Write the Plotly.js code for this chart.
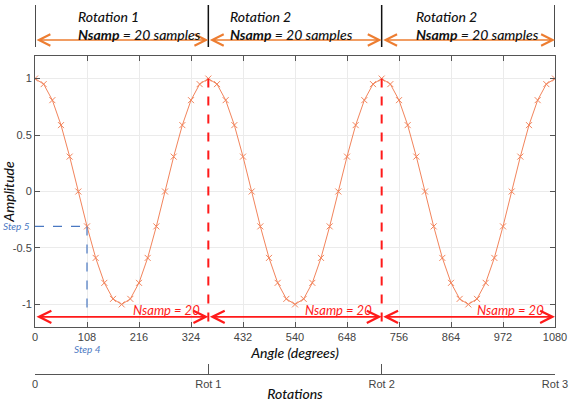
<!DOCTYPE html>
<html>
<head>
<meta charset="utf-8">
<script src="https://cdn.plot.ly/plotly-3.0.1.min.js"></script>
<style>html,body{margin:0;padding:0;background:#fff}#chart{width:569px;height:411px}</style>
</head>
<body>
<div id="chart"></div>
<script>
// Sample angles (degrees) and amplitudes
var angles = [0,18,36,54,72,90,108,126,144,162,180,198,216,234,252,270,288,306,324,342,
  360,378,396,414,432,450,468,486,504,522,540,558,576,594,612,630,648,666,684,702,
  720,738,756,774,792,810,828,846,864,882,900,918,936,954,972,990,1008,1026,1044,1062,1080];
var amplitude = [1,0.951,0.809,0.588,0.309,0,-0.309,-0.588,-0.809,-0.951,-1,-0.951,-0.809,-0.588,-0.309,0,0.309,0.588,0.809,0.951,
  1,0.951,0.809,0.588,0.309,0,-0.309,-0.588,-0.809,-0.951,-1,-0.951,-0.809,-0.588,-0.309,0,0.309,0.588,0.809,0.951,
  1,0.951,0.809,0.588,0.309,0,-0.309,-0.588,-0.809,-0.951,-1,-0.951,-0.809,-0.588,-0.309,0,0.309,0.588,0.809,0.951,1];
var angleTicks = [0,108,216,324,432,540,648,756,864,972,1080];
var ampTicks = [-1,-0.5,0,0.5,1];
var ampTickText = ['-1','-0.5','0','0.5','1'];
var rotationTicks = [0,1,2,3];
var rotationLabels = ['0','Rot 1','Rot 2','Rot 3'];
var rotationBounds = [0,360,720,1080];
var rotationNames = ['Rotation 1','Rotation 2','Rotation 2'];
var nsampPerRotation = 20;
var stepAngle = 108, stepAmp = -0.309;

var H = 411;
function py(p){ return 1 - p/H; }

var orange = '#ED7D31', dataOrange = '#F2845C', red = '#FF1A1A', blue = '#4A78C2';
var fam = 'Lato, "Open Sans", sans-serif';
var italicFont = {family:fam, size:14, color:'#111', style:'italic', weight:500};

var traces = [
  {x: angles, y: amplitude, type:'scatter', mode:'lines+markers',
   line:{color:dataOrange, width:1},
   marker:{symbol:'x-thin', size:6, line:{color:dataOrange, width:1}},
   showlegend:false, hoverinfo:'x+y'},
  {x: rotationTicks, y: rotationTicks.map(function(){return null;}), xaxis:'x2', yaxis:'y',
   type:'scatter', mode:'markers', showlegend:false, hoverinfo:'skip'}
];

var shapes = [], annotations = [];
rotationBounds.forEach(function(b){
  shapes.push({type:'line', xref:'x', yref:'paper', x0:b, x1:b, y0:py(47), y1:py(5),
    line:{color:'#111', width:1.5}});
});
var textX = [85, 401, 787];
for (var i=0;i<3;i++){
  var a = rotationBounds[i], b = rotationBounds[i+1];
  annotations.push({xref:'x', yref:'paper', x:b, y:py(40), axref:'x', ayref:'pixel', ax:a, ay:0,
    text:'', showarrow:true, arrowside:'end+start', arrowhead:5, startarrowhead:5,
    arrowsize:1.4, startarrowsize:1.4, arrowwidth:1.6, arrowcolor:orange, standoff:0, startstandoff:0});
  annotations.push({xref:'x', yref:'paper', x:textX[i], y:py(25.5), xanchor:'left', yanchor:'middle',
    align:'left', showarrow:false,
    text:'<i>'+rotationNames[i]+'</i><br><b><i>Nsamp</i></b><i> = '+nsampPerRotation+' samples</i>',
    font:{family:fam, size:14, color:'#111', weight:500}});
  annotations.push({xref:'x', yref:'y', x:b, y:-1.11, axref:'x', ayref:'y', ax:a, ay:-1.11,
    text:'', showarrow:true, arrowside:'end+start', arrowhead:5, startarrowhead:5,
    arrowsize:1.5, startarrowsize:1.5, arrowwidth:1.6, arrowcolor:red, standoff:0, startstandoff:0});
  var tx = (i===0) ? 346 : (i===1 ? 704 : 1062);
  annotations.push({xref:'x', yref:'y', x:tx, y:-1.045, xanchor:'right', yanchor:'middle', showarrow:false,
    text:'<i>Nsamp = '+nsampPerRotation+'</i>', font:{family:fam, size:13, color:red}});
}
[rotationBounds[1], rotationBounds[2]].forEach(function(b){
  shapes.push({type:'line', xref:'x', yref:'y', x0:b, x1:b, y0:1, y1:-1.2,
    line:{color:red, width:2, dash:'dash'}});
});
shapes.push({type:'line', xref:'x', yref:'y', x0:0, x1:stepAngle, y0:stepAmp, y1:stepAmp,
  line:{color:blue, width:1.2, dash:'dash'}});
shapes.push({type:'line', xref:'x', yref:'y', x0:stepAngle, x1:stepAngle, y0:stepAmp, y1:-1.07,
  line:{color:blue, width:1.2, dash:'dash'}});
annotations.push({xref:'paper', yref:'y', x:-0.005, y:stepAmp, xanchor:'right', yanchor:'middle', showarrow:false,
  text:'<i>Step 5</i>', font:{family:fam, size:10, color:blue}});
annotations.push({xref:'x', yref:'paper', x:stepAngle, y:py(348.5), xanchor:'center', yanchor:'middle', showarrow:false,
  text:'<i>Step 4</i>', font:{family:fam, size:10, color:blue}});

var tickFont = {family:'"Liberation Sans", Arial, sans-serif', size:11, color:'#444'};
var layout = {
  width:569, height:411,
  margin:{l:35, r:14, t:0, b:0},
  paper_bgcolor:'#fff', plot_bgcolor:'#fff',
  showlegend:false,
  xaxis:{range:[0,1080], tickvals:angleTicks, ticks:'inside', ticklen:5, tickcolor:'#555',
    showline:true, linecolor:'#555', linewidth:1, mirror:'ticks', showgrid:true, gridcolor:'#ebebeb',
    zeroline:false, tickfont:tickFont, domain:[0,1],
    title:{text:'Angle (degrees)', font:italicFont, standoff:5}},
  xaxis2:{overlaying:'x', anchor:'free', position:py(373.5), range:[0,3], tickvals:rotationTicks,
    ticktext:rotationLabels, ticks:'inside', ticklen:10, tickcolor:'#555', showline:true, linecolor:'#555',
    linewidth:1, showgrid:false, zeroline:false, tickfont:tickFont, side:'bottom',
    title:{text:'Rotations', font:italicFont, standoff:0}},
  yaxis:{range:[-1.2,1.2], domain:[py(327), py(56)], tickvals:ampTicks, ticktext:ampTickText,
    ticks:'inside', ticklen:5, tickcolor:'#555', showline:true, linecolor:'#555', mirror:'ticks',
    showgrid:true, gridcolor:'#ebebeb', zeroline:false, tickfont:tickFont,
    title:{text:'Amplitude', font:italicFont, standoff:0}},
  shapes:shapes, annotations:annotations
};
Plotly.newPlot('chart', traces, layout, {displayModeBar:false, staticPlot:true});
</script>
</body>
</html>
